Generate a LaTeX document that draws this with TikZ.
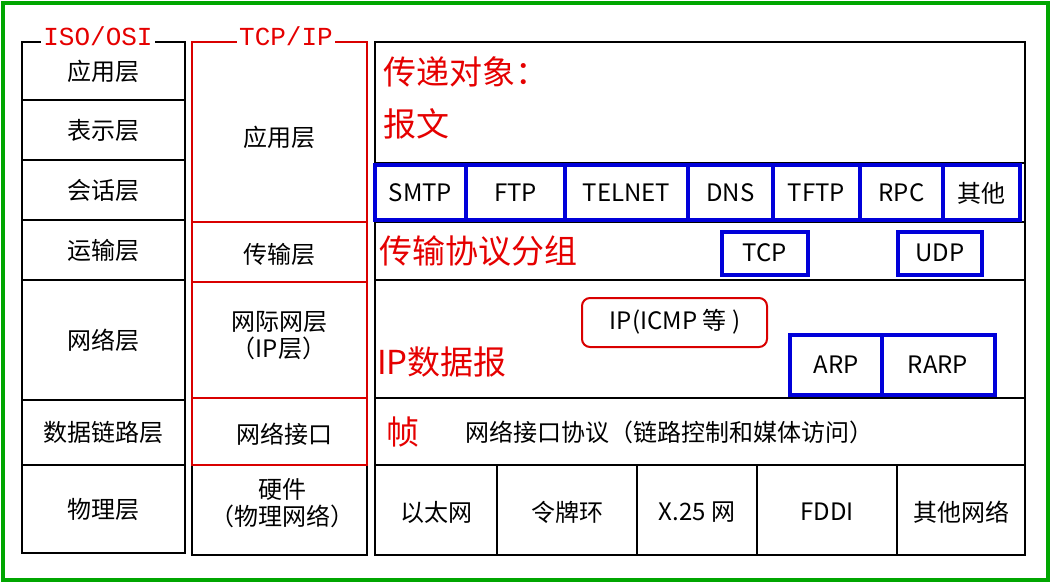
\documentclass[tikz,border=0pt]{standalone}
\usepackage{fontspec}
\setmainfont{Noto Sans CJK SC}
\newfontfamily\monof{Liberation Mono}
\begin{document}
\begin{tikzpicture}[x=1pt,y=-1pt,
 cell/.style={draw=black,line width=2.6pt},
 redc/.style={draw=red!85!black,line width=2pt},
 blu/.style={draw=blue!85!black,line width=3.2pt},
 txt/.style={font=\fontsize{24}{27}\selectfont},
 rtxt/.style={text=red!90!black,font=\fontsize{33}{35}\selectfont,anchor=west,inner sep=1pt},
 lab/.style={text=red!90!black,font=\monof\fontsize{26}{28}\selectfont,fill=white,inner sep=2pt}]
\useasboundingbox (0,0) rectangle (1052,586);
\fill[white] (0,0) rectangle (1052,586);
\draw[green!65!black,line width=4pt] (3,3) rectangle (1048,580);
% left column
\foreach \a/\b/\t [count=\i] in {42/100/应用层,100/160/表示层,160/220/会话层,220/280/运输层,280/400/网络层,400/465/数据链路层,465/553/物理层}
 {\draw[cell] (22,\a) rectangle (185,\b); \node[txt] (l\i) at (103.5,{(\a+\b)/2}) {\t};}
\node[lab] (iso) at (98,36) {ISO/OSI};
% middle column
\draw[cell] (192,42) rectangle (367,555);
\foreach \a/\b [count=\i] in {42/222,222/282,282/398,398/465}
 \draw[redc] (192,\a) rectangle (367,\b);
\node[txt] (m1) at (279,137) {应用层};
\node[txt] (m2) at (279,254) {传输层};
\node[txt,align=center] (m3) at (279,336) {网际网层\\（IP层）};
\node[txt] (m4) at (284,434) {网络接口};
\node[txt,align=center] (m5) at (282,503) {硬件\\（物理网络）};
\node[lab] (tcpip) at (286,36) {TCP/IP};
% right
\draw[cell] (375,42) rectangle (1025,555);
\foreach \y in {163,222,280,398,465} \draw[cell] (375,\y) -- (1025,\y);
\node[rtxt] (o1) at (382,72) {传递对象：};
\node[rtxt] (o2) at (382,124) {报文};
\foreach \a/\b/\t [count=\i] in {375/466/SMTP,466/565/FTP,565/688/TELNET,688/773/DNS,773/860/TFTP,860/943/RPC,943/1020/其他}
 {\draw[blu] (\a,165) rectangle (\b,220); \node[txt] (p\i) at ({(\a+\b)/2},193) {\t};}
\node[rtxt] (o3) at (378,251) {传输协议分组};
\draw[blu] (722,232) rectangle (808,275); \node[txt] (tcp) at (765,253) {TCP};
\draw[blu] (898,232) rectangle (982,275); \node[txt] (udp) at (940,253) {UDP};
\draw[redc,rounded corners=8pt] (582,298) rectangle (767,347);
\node[txt] (ip) at (675,322) {IP(ICMP 等 )};
\node[rtxt] (o4) at (376,362) {IP数据报};
\draw[blu] (790,335) rectangle (882,395); \node[txt] (arp) at (836,365) {ARP};
\draw[blu] (882,335) rectangle (995,395); \node[txt] (rarp) at (938,365) {RARP};
\node[rtxt] (o5) at (385,432) {帧};
\node[txt,anchor=west] (nif) at (462,432) {网络接口协议（链路控制和媒体访问）};
\foreach \x in {497,637,757,897} \draw[cell] (\x,465) -- (\x,555);
\foreach \a/\b/\t [count=\i] in {375/497/以太网,497/637/令牌环,637/757/X.25 网,757/897/FDDI,897/1025/其他网络}
 \node[txt] (n\i) at ({(\a+\b)/2},512) {\t};
\end{tikzpicture}
\end{document}
